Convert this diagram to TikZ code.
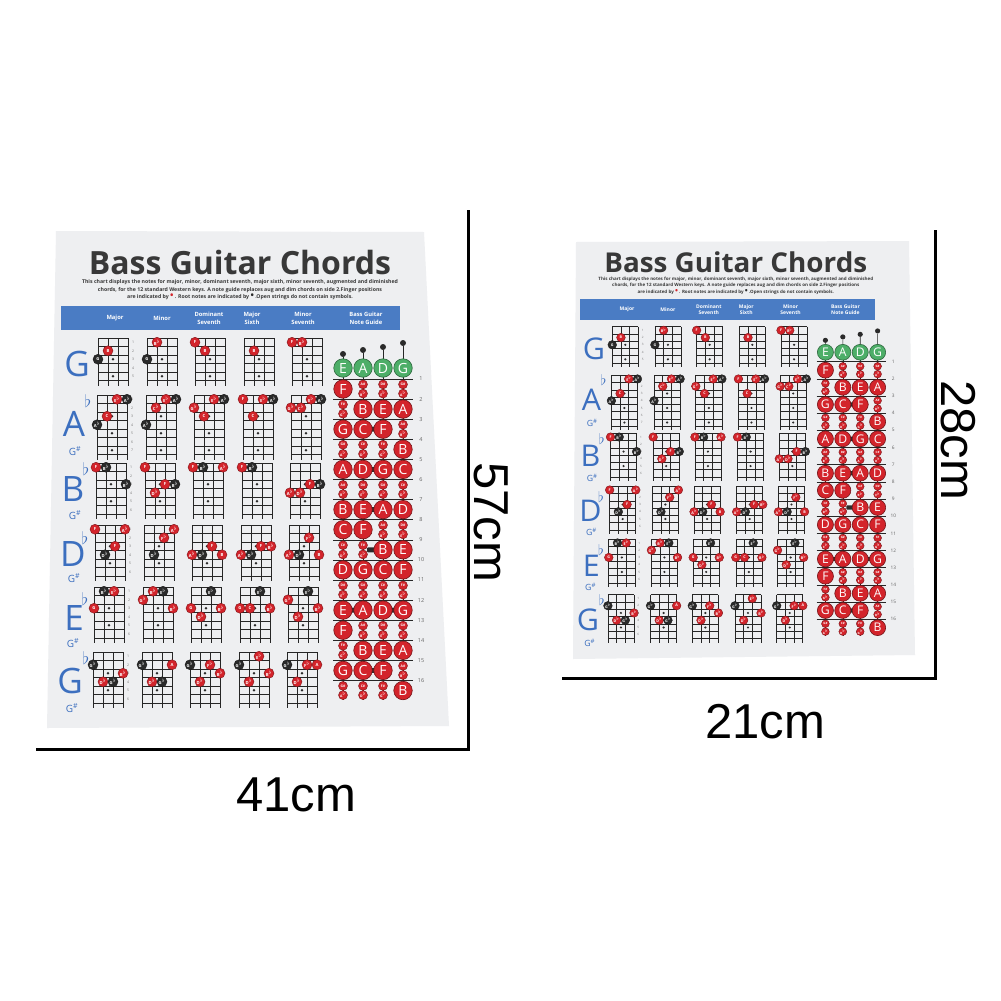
\documentclass[tikz,border=0pt]{standalone}
\usepackage{fontspec}
\setmainfont{Open Sans}
\newfontfamily\dimfont{Liberation Sans}

\definecolor{sheetgray}{HTML}{EEEFF1}
\definecolor{notered}{HTML}{D3242B}
\definecolor{rootblack}{HTML}{2A2A2A}
\definecolor{opengreen}{HTML}{4DAE68}
\definecolor{bandblue}{HTML}{4A7CC4}
\definecolor{keyblue}{HTML}{3C6FBF}
\definecolor{titlegray}{HTML}{383838}
\colorlet{fr}{notered}
\colorlet{fk}{rootblack}

\newcommand\flt{\ensuremath{^\flat}}

\tikzset{
  sheet/.style={fill=sheetgray, draw=none},
  dimline/.style={line width=3pt, black},
  dimlabel/.style={font=\dimfont\fontsize{49}{49}\selectfont, inner sep=0pt},
  titletext/.style={text=titlegray, font=\bfseries\fontsize{32}{32}\selectfont, inner sep=0pt},
  desctext/.style={text=titlegray, align=center, inner sep=0pt, font=\bfseries\fontsize{5.2}{7.6}\selectfont},
  bandtext/.style={text=white, align=center, inner sep=0pt, font=\bfseries\fontsize{5.8}{8}\selectfont},
  bigkey/.style={text=keyblue, inner sep=0pt, font=\fontsize{35}{35}\selectfont},
  keyflat/.style={text=keyblue, inner sep=0pt, font=\fontsize{19}{19}\selectfont},
  keysharp/.style={text=keyblue, inner sep=0pt, font=\fontsize{10}{10}\selectfont},
  gridline/.style={line width=0.6pt, black!85},
  fretnum/.style={text=black!55, inner sep=0pt, font=\fontsize{3.5}{3.5}\selectfont},
  guidenum/.style={text=black!60, inner sep=0pt, font=\fontsize{5.5}{5.5}\selectfont},
  fing/.style={circle, inner sep=0pt, minimum size=10pt, line width=0.4pt, text=white,
    font=\bfseries\fontsize{4.2}{4.2}\selectfont},
  bignote/.style={circle, inner sep=0pt, minimum size=18.5pt, fill=notered, draw=notered!55!black,
    line width=0.6pt, text=white, font=\fontsize{14}{14}\selectfont},
  tinynote/.style={circle, inner sep=0pt, minimum size=9pt, fill=notered, draw=notered!55!black,
    line width=0.4pt, text=white, font=\bfseries\fontsize{3.4}{3.4}\selectfont},
  opennote/.style={bignote, fill=opengreen, draw=opengreen!60!black},
  peg/.style={circle, inner sep=0pt, minimum size=6pt, fill=rootblack}
}

\newcommand\chordgrid[3]{%
  \begin{scope}[shift={({#1},{#2})}]
    \foreach \gx in {0,10,20,30} \draw[gridline] (\gx,0) -- (\gx,{#3*8.5+5});
    \foreach \gr in {1,...,#3} \draw[gridline] (0,{\gr*8.5}) -- (30,{\gr*8.5});
    \draw[gridline, line width=1pt] (0,0) -- (30,0);
    \fill[rootblack] (15,21.25) circle (1.4) (15,38.25) circle (1.4);
    \ifnum#3>6 \fill[rootblack] (15,55.25) circle (1.4); \fi
  \end{scope}}

\newcommand\chord[4]{%
  \chordgrid{#1}{#2}{#3}
  \foreach \ns/\nf/\nc/\nl in {#4}
    \node[fing, fill=f\nc, draw=f\nc!60!black] (d\ns\nf) at ({#1+(\ns-1)*10},{#2+(\nf-0.5)*8.5}) {\nl};}

\newcommand\chordrow[8]{%
  \chord{97+(#3)}{#1}{#2}{#4}
  \chord{146+(#3)}{#1}{#2}{#5}
  \chord{194+(#3)}{#1}{#2}{#6}
  \chord{243+(#3)}{#1}{#2}{#7}
  \chord{291+(#3)}{#1}{#2}{#8}
  \foreach \gr in {1,...,#2}
    \node[fretnum] (fn\gr) at ({97+(#3)+35},{#1+(\gr-0.5)*8.5}) {\gr};}

\newcommand\natnote[4]{\node[bignote] (#4) at ({#1},{#2}) {#3};}
\newcommand\accnote[5]{%
  \node[tinynote] (#5s) at ({#1},{#2-4.6}) {#3\#};
  \node[tinynote] (#5f) at ({#1},{#2+4.6}) {#4\flt};}
\newcommand\guidenote[4]{%
  \ifcase#3\relax
    \natnote{#1}{#2}{E}{#4}\or
    \natnote{#1}{#2}{F}{#4}\or
    \accnote{#1}{#2}{F}{G}{#4}\or
    \natnote{#1}{#2}{G}{#4}\or
    \accnote{#1}{#2}{G}{A}{#4}\or
    \natnote{#1}{#2}{A}{#4}\or
    \accnote{#1}{#2}{A}{B}{#4}\or
    \natnote{#1}{#2}{B}{#4}\or
    \natnote{#1}{#2}{C}{#4}\or
    \accnote{#1}{#2}{C}{D}{#4}\or
    \natnote{#1}{#2}{D}{#4}\or
    \accnote{#1}{#2}{D}{E}{#4}\fi}

\newcommand\posterbody{%
  \node[titletext] (title) at (240,262) {Bass Guitar Chords};
  \node[desctext] (desc) at (240,290) {This chart displays the notes for major, minor, dominant seventh, major sixth, minor seventh, augmented and diminished\\
    chords, for the 12 standard Western keys. A note guide replaces aug and dim chords on side 2.Finger positions\\
    are indicated by {\color{notered}\fontsize{9}{5}\selectfont•} . Root notes are indicated by {\color{rootblack}\fontsize{9}{5}\selectfont•} .Open strings do not contain symbols.};
  \fill[bandblue] (61,306) rectangle (400,330);
  \foreach \hx/\hl [count=\i] in {115/Major, 162/Minor, 209/{Dominant\\Seventh}, 252/{Major\\Sixth},
      303/{Minor\\Seventh}, 366/{Bass Guitar\\Note Guide}}
    \node[bandtext] (head\i) at (\hx,318) {\hl};
  \chordrow{338}{5}{1}{2/2/r/B, 1/3/k/G}{2/1/r/B\flt, 1/3/k/G}{1/1/r/F, 2/2/r/B}{2/2/r/B}{1/1/r/F, 2/1/r/B\flt}
  \chordrow{395}{7}{0}{3/1/r/E\flt, 4/1/k/A\flt, 2/3/r/C, 1/4/k/A\flt}{3/1/r/E\flt, 4/1/k/A\flt, 2/2/r/C\flt, 1/4/k/A\flt}
    {3/1/r/E\flt, 4/1/k/A\flt, 1/2/r/G\flt, 2/3/r/C}{1/1/r/F, 3/1/r/E\flt, 4/1/k/A\flt, 2/3/r/C}
    {3/1/r/E\flt, 4/1/k/A\flt, 1/2/r/G\flt, 2/2/r/C\flt}
  \chordrow{463}{6}{-1}{1/1/r/F, 2/1/k/B\flt, 4/3/k/B\flt}{1/1/r/F, 3/3/r/F, 4/3/k/B\flt, 2/4/r/D\flt}
    {1/1/r/F, 2/1/k/B\flt, 4/1/r/A\flt}{1/1/r/F, 2/1/k/B\flt}{3/3/r/F, 4/3/k/B\flt, 1/4/r/A\flt, 2/4/r/D\flt}
  \chordrow{525}{6}{-2}{1/1/r/F, 4/1/r/A\flt, 3/3/r/F, 2/4/k/D\flt}{4/1/r/A\flt, 3/2/r/F\flt, 2/4/k/D\flt}
    {3/3/r/F, 1/4/r/A\flt, 2/4/k/D\flt, 4/4/r/B}{3/3/r/F, 4/3/r/B\flt, 1/4/r/A\flt, 2/4/k/D\flt}
    {3/2/r/F\flt, 1/4/r/A\flt, 2/4/k/D\flt, 4/4/r/B}
  \chordrow{587}{6}{-3}{2/1/k/B\flt, 3/1/r/E\flt, 1/3/r/G}{2/1/r/B\flt, 3/1/k/E\flt, 1/2/r/G\flt, 4/3/r/B\flt}
    {3/1/k/E\flt, 1/3/r/G, 4/3/r/B\flt, 2/4/r/D\flt}{3/1/k/E\flt, 1/3/r/G, 2/3/r/C, 4/3/r/B\flt}
    {3/1/k/E\flt, 1/2/r/G\flt, 4/3/r/B\flt, 2/4/r/D\flt}
  \chordrow{652}{6}{-4}{1/2/k/G\flt, 4/3/r/B\flt, 2/4/r/D\flt, 3/4/k/G\flt}{1/2/k/G\flt, 4/2/r/A, 2/4/r/D\flt, 3/4/k/G\flt}
    {1/2/k/G\flt, 3/2/r/F\flt, 4/3/r/B\flt, 2/4/r/D\flt}{3/1/r/E\flt, 1/2/k/G\flt, 4/3/r/B\flt, 2/4/r/D\flt}
    {1/2/k/G\flt, 3/2/r/F\flt, 4/2/r/A, 2/4/r/D\flt}
  \node[bigkey] (keyG) at (77,364) {G};
  \foreach \kx/\ky/\kl/\fx/\fy/\sx/\sy [count=\i] in {74/424/A/88/401/75/451, 73/489/B/86/469/75/515,
      73/554/D/85/538/74/578, 74/618/E/85/599/73/643, 70/681/G/86/658/72/708} {
    \node[bigkey] (key\i) at (\kx,\ky) {\kl};
    \node[keyflat] (flat\i) at (\fx,\fy) {$\flat$};
    \node[keysharp] (alt\i) at (\sx,\sy) {G\textsuperscript{\#}};
  }
  \foreach \n in {1,...,16} {
    \draw[gridline, line width=0.5pt] (333,{379+(\n-1)*20.1}) -- (413,{379+(\n-1)*20.1});
    \node[guidenum] (gn\n) at (421,{379+(\n-1)*20.1}) {\n};
  }
  \foreach \sx/\so/\sl/\sy [count=\s] in {343/0/E/354, 363/5/A/350, 383/10/D/347, 403/3/G/343} {
    \draw[gridline] (\sx,368) -- (\sx,700);
    \node[peg] (peg\s) at (\sx,\sy) {};
    \draw[gridline] (peg\s) -- (\sx,368);
  }
  \foreach \mf/\mx in {3/373, 5/373, 7/373, 9/373, 12/353, 12/393, 15/373}
    \fill[rootblack, rounded corners=1pt] ({\mx-6},{379+(\mf-1)*20.1+7.5}) rectangle ({\mx+6},{379+(\mf-1)*20.1+12.5});
  \foreach \sx/\so/\sl/\sy [count=\s] in {343/0/E/354, 363/5/A/350, 383/10/D/347, 403/3/G/343} {
    \node[opennote] (open\s) at (\sx,368) {\sl};
    \foreach \f in {1,...,16} {
      \pgfmathtruncatemacro\k{mod(\so+\f,12)}
      \pgfmathsetmacro\ny{379+(\f-1)*20.1+10}
      \guidenote{\sx}{\ny}{\k}{g\s-\f}
    }
  }
}

\begin{document}
\begin{tikzpicture}[x=1pt, y=-1pt]
  \useasboundingbox (0,0) rectangle (1001,1001);
  \fill[white] (0,0) rectangle (1001,1001);

  \fill[sheet] (56,231) -- (424,232) -- (449,726) -- (47,728) -- cycle;
  \posterbody

  \fill[sheet] (576,242) -- (909,241) -- (915,655) -- (573,659) -- cycle;
  \begin{scope}[shift={(527,38)}, xscale=0.87, yscale=0.854, transform shape]
    \posterbody
  \end{scope}

  \coordinate (bigtop) at (468,210);
  \coordinate (bigcorner) at (468,749);
  \coordinate (bigleft) at (36,749);
  \draw[dimline] (bigtop) -- (bigcorner) -- (bigleft);
  \node[dimlabel] (bigwidth) at (296,795) {41cm};
  \node[dimlabel, rotate=-90] (bigheight) at (491,522) {57cm};

  \coordinate (smalltop) at (935,230);
  \coordinate (smallcorner) at (935,678);
  \coordinate (smallleft) at (562,678);
  \draw[dimline] (smalltop) -- (smallcorner) -- (smallleft);
  \node[dimlabel] (smallwidth) at (765,722) {21cm};
  \node[dimlabel, rotate=-90] (smallheight) at (958,440) {28cm};
\end{tikzpicture}
\end{document}
